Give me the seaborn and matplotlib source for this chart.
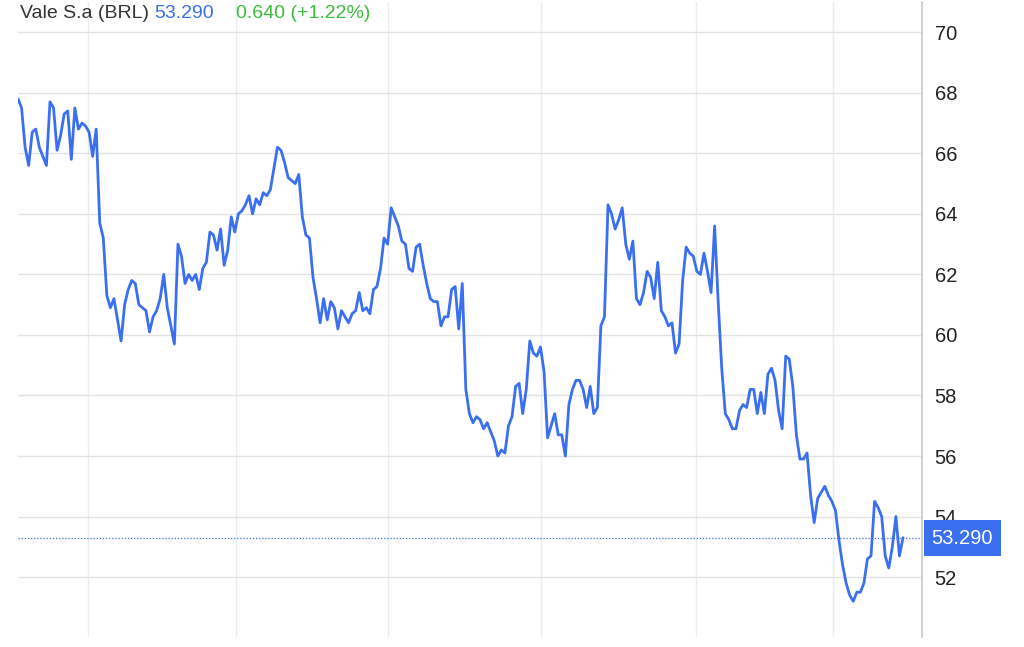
import matplotlib
matplotlib.use("Agg")
import matplotlib.pyplot as plt
import numpy as np
import seaborn as sns

prices = [
    67.8, 67.5, 66.2, 65.6, 66.7, 66.8, 66.2, 65.9, 65.6, 67.7, 67.5, 66.1, 66.6, 67.3, 67.4, 65.8,
    67.5, 66.8, 67.0, 66.9, 66.7, 65.9, 66.8, 63.7, 63.2, 61.3, 60.9, 61.2, 60.5, 59.8, 61.0, 61.5,
    61.8, 61.7, 61.0, 60.9, 60.8, 60.1, 60.6, 60.8, 61.2, 62.0, 60.9, 60.3, 59.7, 63.0, 62.6, 61.7,
    62.0, 61.8, 62.0, 61.5, 62.2, 62.4, 63.4, 63.3, 62.8, 63.5, 62.3, 62.8, 63.9, 63.4, 64.0, 64.1,
    64.3, 64.6, 64.0, 64.5, 64.3, 64.7, 64.6, 64.8, 65.5, 66.2, 66.1, 65.7, 65.2, 65.1, 65.0, 65.3,
    63.9, 63.3, 63.2, 61.9, 61.2, 60.4, 61.2, 60.5, 61.1, 60.9, 60.2, 60.8, 60.6, 60.4, 60.7, 60.8,
    61.4, 60.8, 60.9, 60.7, 61.5, 61.6, 62.2, 63.2, 63.0, 64.2, 63.9, 63.6, 63.1, 63.0, 62.2, 62.1,
    62.9, 63.0, 62.3, 61.7, 61.2, 61.1, 61.1, 60.3, 60.6, 60.6, 61.5, 61.6, 60.2, 61.7, 58.2, 57.4,
    57.1, 57.3, 57.2, 56.9, 57.1, 56.8, 56.5, 56.0, 56.2, 56.1, 57.0, 57.3, 58.3, 58.4, 57.4, 58.2,
    59.8, 59.4, 59.3, 59.6, 58.8, 56.6, 57.0, 57.4, 56.7, 56.7, 56.0, 57.7, 58.2, 58.5, 58.5, 58.2,
    57.6, 58.3, 57.4, 57.6, 60.3, 60.6, 64.3, 64.0, 63.5, 63.8, 64.2, 63.0, 62.5, 63.1, 61.2, 61.0,
    61.4, 62.1, 61.9, 61.2, 62.4, 60.8, 60.6, 60.3, 60.4, 59.4, 59.7, 61.8, 62.9, 62.7, 62.6, 62.1,
    62.0, 62.7, 62.1, 61.4, 63.6, 61.1, 58.9, 57.4, 57.2, 56.9, 56.9, 57.5, 57.7, 57.6, 58.2, 58.2,
    57.4, 58.1, 57.4, 58.7, 58.9, 58.5, 57.5, 56.9, 59.3, 59.2, 58.3, 56.7, 55.9, 55.9, 56.1, 54.7,
    53.8, 54.6, 54.8, 55.0, 54.7, 54.5, 54.2, 53.2, 52.4, 51.8, 51.4, 51.2, 51.5, 51.5, 51.8, 52.6,
    52.7, 54.5, 54.3, 54.0, 52.7, 52.3, 53.0, 54.0, 52.7, 53.3,
]
last_price = 53.290
y_ticks = [52, 54, 56, 58, 60, 62, 64, 66, 68, 70]

sns.set_theme(style="white")
plt.rcParams["font.family"] = ["Liberation Sans", "DejaVu Sans"]

fig = plt.figure(figsize=(10.24, 6.47), dpi=100)
ax = fig.add_axes([18 / 1024, 10 / 647, (922 - 18) / 1024, (637 - 2) / 647])

n = len(prices)
xs = np.arange(n)
sns.lineplot(x=xs, y=prices, ax=ax, color="#3a6ff0", linewidth=2.0)

span = (n - 1) * (922 - 18) / (903 - 18)
ax.set_xlim(0, span)
ax.set_ylim(50.02, 71.0)

grid_px = [88, 236, 388, 541, 696, 833]
ax.set_xticks([(p - 18) / (922 - 18) * span for p in grid_px])
ax.set_xticklabels([])
ax.set_yticks(y_ticks)
ax.yaxis.tick_right()
ax.tick_params(axis="y", length=0, labelsize=14.5, pad=9, labelcolor="#222222")
ax.tick_params(axis="x", length=0)
ax.grid(True, axis="y", color="#e3e3e3", linewidth=1)
ax.grid(True, axis="x", color="#e6eef3", linewidth=1)
for side in ["top", "bottom", "left"]:
    ax.spines[side].set_visible(False)
ax.spines["right"].set_color("#cccccc")

ax.axhline(last_price, color="#3a6ff0", linestyle=(0, (1, 1.5)), linewidth=0.9)
ax.annotate(f"{last_price:.3f}", xy=(1.0, last_price), xycoords=("axes fraction", "data"),
            xytext=(7, 0), textcoords="offset points", va="center", ha="left",
            fontsize=14.5, color="white",
            bbox=dict(boxstyle="square,pad=0.4", fc="#3a6ff0", ec="none"))

ty = 1 - 14 / 647
fig.text(20 / 1024, ty, "Vale S.a (BRL)", fontsize=14, color="#333333", va="center")
fig.text(154 / 1024, ty, "53.290", fontsize=14, color="#3a6ff0", va="center")
fig.text(236 / 1024, ty, "0.640 (+1.22%)", fontsize=14, color="#3dbb3d", va="center")

fig.savefig("out.png", dpi=100)
